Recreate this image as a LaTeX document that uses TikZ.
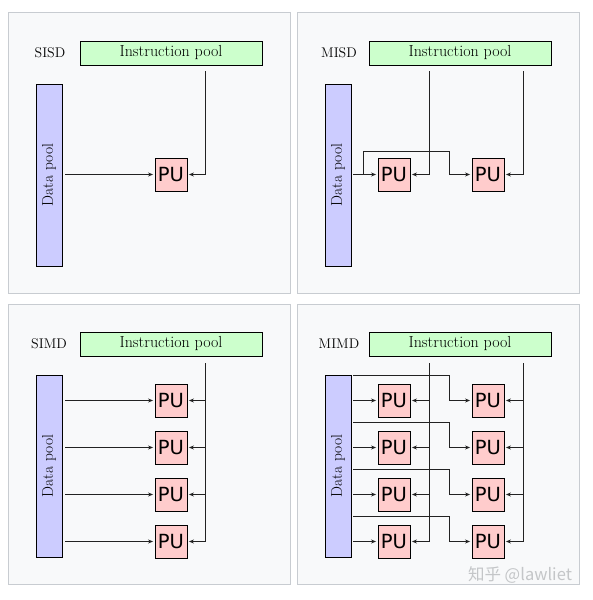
\documentclass[tikz,border=0pt]{standalone}
\usepackage{fontspec}
\newfontfamily\pufont{DejaVu Sans}
\newfontfamily\cjkfont{Noto Sans CJK SC}
\usetikzlibrary{arrows.meta}
\definecolor{panelbg}{HTML}{F8F9FA}
\definecolor{panelborder}{HTML}{C8CCD1}
\definecolor{ipoolc}{HTML}{CCFFCC}
\definecolor{dpoolc}{HTML}{CCCCFF}
\definecolor{puc}{HTML}{FFCCCC}
\definecolor{linec}{HTML}{222222}
\definecolor{wmark}{HTML}{C4C6C8}
\tikzset{
  panel/.style={draw=panelborder, fill=panelbg, line width=0.9pt, inner sep=0, minimum width=282pt, minimum height=281pt},
  ipool/.style={draw=black, fill=ipoolc, line width=0.9pt, minimum width=182pt, minimum height=24pt, inner sep=0, font=\fontsize{16}{16}\selectfont},
  dpool/.style={draw=black, fill=dpoolc, line width=0.9pt, minimum width=26pt, minimum height=182pt, inner sep=0},
  dlabel/.style={rotate=90, inner sep=0, font=\fontsize{15.5}{15.5}\selectfont},
  plabel/.style={inner sep=0, font=\fontsize{14}{14}\selectfont},
  pu/.style={draw=black, fill=puc, line width=0.9pt, minimum width=32pt, minimum height=33pt, inner sep=0, font=\pufont\fontsize{19.5}{19.5}\selectfont},
  conn/.style={line width=0.9pt, draw=linec},
  arr/.style={conn, -{Stealth[length=5pt,width=4pt]}, shorten >=1.5pt},
}
\begin{document}
\begin{tikzpicture}[x=1pt,y=-1pt]
\useasboundingbox (0,0) rectangle (593,600);
\fill[white] (0,0) rectangle (593,600);
% panels
\node[panel] (pan1) at (149,152.5) {};
\node[panel] (pan2) at (438.5,152.5) {};
\node[panel, minimum height=280pt] (pan3) at (149,444) {};
\node[panel, minimum height=280pt] (pan4) at (438.5,444) {};

% ---------------- SISD
\node[plabel] (l1) at (50,53) {SISD};
\node[ipool] (ip1) at (171,53) {Instruction pool};
\node[dpool] (dp1) at (49,175) {};
\node[dlabel] (dt1) at (dp1) {Data pool};
\node[pu] (pu1) at (171,174.5) {PU};
\coordinate (d1) at (65,174.5);
\coordinate (i1) at (205,71);
\draw[arr] (d1) -- (pu1.west);
\draw[arr] (i1) |- (pu1.east);

% ---------------- MISD
\node[plabel] (l2) at (339,53) {MISD};
\node[ipool] (ip2) at (460,53) {Instruction pool};
\node[dpool] (dp2) at (338,175) {};
\node[dlabel] (dt2) at (dp2) {Data pool};
\node[pu] (pu2a) at (394,174.5) {PU};
\node[pu] (pu2b) at (488,174.5) {PU};
\coordinate (d2) at (353,174.5);
\coordinate (b2) at (363,174.5);
\coordinate (k2) at (449,151);
\coordinate (i2a) at (429,71);
\coordinate (i2b) at (523,71);
\draw[arr] (d2) -- (pu2a.west);
\draw[arr] (b2) |- (k2) |- (pu2b.west);
\draw[arr] (i2a) |- (pu2a.east);
\draw[arr] (i2b) |- (pu2b.east);

% ---------------- SIMD
\node[plabel] (l3) at (49,344) {SIMD};
\node[ipool] (ip3) at (171,344) {Instruction pool};
\node[dpool] (dp3) at (49,466) {};
\node[dlabel] (dt3) at (dp3) {Data pool};
\coordinate (i3) at (205,363);
\foreach \k/\y in {1/400.5,2/447.5,3/494.5,4/541.5}{
  \node[pu] (pu3-\k) at (171,\y) {PU};
  \coordinate (d3-\k) at (65,\y);
  \draw[arr] (d3-\k) -- (pu3-\k.west);
  \draw[arr] (i3) |- (pu3-\k.east);
}

% ---------------- MIMD
\node[plabel] (l4) at (339,344) {MIMD};
\node[ipool] (ip4) at (460,344) {Instruction pool};
\node[dpool] (dp4) at (338,466) {};
\node[dlabel] (dt4) at (dp4) {Data pool};
\coordinate (i4a) at (429,363);
\coordinate (i4b) at (523,363);
\foreach \k/\y in {1/400.5,2/447.5,3/494.5,4/541.5}{
  \node[pu] (pu4a-\k) at (394,\y) {PU};
  \node[pu] (pu4b-\k) at (488,\y) {PU};
  \coordinate (d4-\k) at (353,\y);
  \coordinate (e4-\k) at (353,\y-25);
  \coordinate (f4-\k) at (449,\y);
  \draw[arr] (d4-\k) -- (pu4a-\k.west);
  \draw[arr] (e4-\k) -| (f4-\k) -- (pu4b-\k.west);
  \draw[arr] (i4a) |- (pu4a-\k.east);
  \draw[arr] (i4b) |- (pu4b-\k.east);
}

% watermark
\node[inner sep=0, text=wmark, font=\cjkfont\fontsize{16.5}{16.5}\selectfont] (wm) at (520,575) {知乎 @lawliet};
\end{tikzpicture}
\end{document}
